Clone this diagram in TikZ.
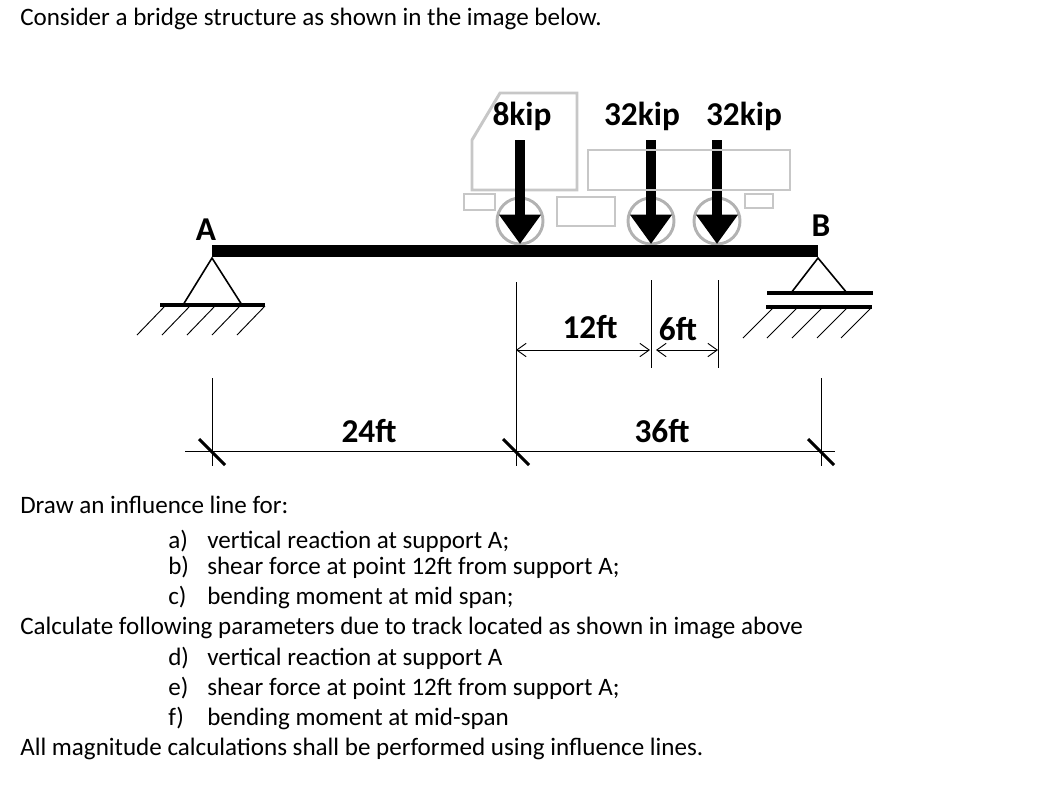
\documentclass[tikz,border=0pt]{standalone}
\usepackage{fontspec}
\setmainfont{Carlito}
\usetikzlibrary{arrows.meta}
\begin{document}
\begin{tikzpicture}[x=0.75pt,y=-0.75pt,
  txt/.style={anchor=base west,inner sep=0pt,font=\fontsize{18.8}{22}\selectfont},
  lbl/.style={inner sep=0pt,font=\fontsize{25}{28}\selectfont\bfseries},
  truck/.style={draw=black!22,line width=2.2pt},
  wheel/.style={draw=black!30,line width=2.2pt},
  thinl/.style={line width=0.7pt},
  dimarrow/.style={thinl,{Straight Barb[length=7pt,width=10pt]}-{Straight Barb[length=7pt,width=10pt]}},
  slash/.style={line width=2.2pt},
  load/.style={line width=7pt,-{Triangle[length=22pt,width=30pt]},shorten >=0pt}]
\useasboundingbox (0,0) rectangle (1056,794);
% texts
\node[txt] (t0) at (20,25) {Consider a bridge structure as shown in the image below.};
\node[txt] (t1) at (20,513) {Draw an influence line for:};
\node[txt] (ia) at (168,548) {a)}; \node[txt] (ta) at (207,548) {vertical reaction at support A;};
\node[txt] (ib) at (168,574) {b)}; \node[txt] (tb) at (207,574) {shear force at point 12ft from support A;};
\node[txt] (ic) at (168,604) {c)}; \node[txt] (tc) at (207,604) {bending moment at mid span;};
\node[txt] (t2) at (20,634) {Calculate following parameters due to track located as shown in image above};
\node[txt] (id) at (168,665) {d)}; \node[txt] (td) at (207,665) {vertical reaction at support A};
\node[txt] (ie) at (168,695) {e)}; \node[txt] (te) at (207,695) {shear force at point 12ft from support A;};
\node[txt] (iff) at (168,725) {f)}; \node[txt] (tf) at (207,725) {bending moment at mid-span};
\node[txt] (t3) at (20,755) {All magnitude calculations shall be performed using influence lines.};
% truck
\draw[truck] (472,190) -- (472,140) -- (500,93) -- (577,93) -- (577,190) -- cycle;
\draw[truck] (588,150) rectangle (790,190);
\draw[truck] (464,194) rectangle (495,210);
\draw[truck] (557,197) rectangle (615,226);
\draw[truck] (745,194) rectangle (773,208);
\node[circle,wheel,minimum size=46pt*0.75] (w1) at (520,221) {};
\node[circle,wheel,minimum size=46pt*0.75] (w2) at (651,221) {};
\node[circle,wheel,minimum size=46pt*0.75] (w3) at (717,221) {};
% beam
\coordinate (A) at (212,251);
\coordinate (B) at (818,251);
\draw[line width=9pt] (A) -- (B);
% loads
\coordinate (l1) at (520,140); \coordinate (l2) at (651,140); \coordinate (l3) at (717,140);
\coordinate (p1) at (520,244); \coordinate (p2) at (651,244); \coordinate (p3) at (717,244);
\draw[load] (l1) -- (p1);
\draw[load] (l2) -- (p2);
\draw[load] (l3) -- (p3);
\draw[draw=black!22,line width=2.2pt] (588,150) -- (790,150) (588,190) -- (790,190);
\node[lbl] (k1) at (522,116) {8kip};
\node[lbl] (k2) at (642,116) {32kip};
\node[lbl] (k3) at (744,116) {32kip};
\node[lbl] (LA) at (206,230) {A};
\node[lbl] (LB) at (821,226) {B};
% support A
\draw[line width=1.2pt,line join=miter] (183,305) -- (212,258) -- (242,305);
\draw[line width=3pt] (160,305) -- (265,305);
\foreach \x in {165,190,215,240,265} \draw[thinl] (\x,306) -- (\x-28,335);
% support B
\draw[line width=1.2pt] (791,293) -- (818,258) -- (847,293);
\draw[line width=3pt] (767,293) -- (873,293);
\draw[line width=3pt] (766,307) -- (872,307);
\foreach \x in {773,797,822,847,871} \draw[thinl] (\x,308) -- (\x-30,338);
% dimensions
\coordinate (d0) at (185,451); \coordinate (d3) at (835,451);
\draw[thinl] (d0) -- (d3);
\foreach \x/\t in {212/378,516/282,821/378} {
  \draw[thinl] (\x,\t) -- (\x,466);
  \draw[slash] (\x-13,439) -- (\x+13,465);
}
\node[lbl] (f24) at (369,431) {24ft};
\node[lbl] (f36) at (662,431) {36ft};
\draw[thinl] (651,280) -- (651,368);
\draw[thinl] (718,280) -- (718,368);
\coordinate (m1) at (516,350); \coordinate (m2) at (650,350);
\coordinate (m3) at (656,350); \coordinate (m4) at (718,350);
\draw[dimarrow] (m1) -- (m2);
\draw[dimarrow] (m3) -- (m4);
\node[lbl] (f12) at (590,327) {12ft};
\node[lbl] (f6) at (678,329) {6ft};
\end{tikzpicture}
\end{document}
